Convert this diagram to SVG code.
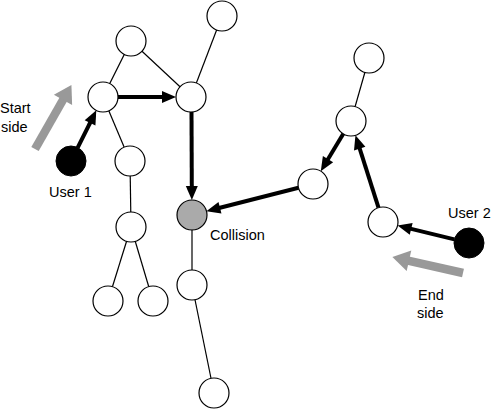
<svg xmlns="http://www.w3.org/2000/svg" width="491" height="410" viewBox="0 0 491 410">
<style>
.n{fill:#fff;stroke:#000;stroke-width:1.2}
.u{fill:#000;stroke:#000;stroke-width:1}
.c{fill:#aaa;stroke:#000;stroke-width:1.2}
.e{stroke:#000;stroke-width:1.2;fill:none}
.a{stroke:#000;stroke-width:4;fill:none;marker-end:url(#ah)}
.g{stroke:#999;stroke-width:8.5;fill:none;marker-end:url(#gh)}
text{font-family:"Liberation Sans",Arial,sans-serif;font-size:14.5px;fill:#000}
</style>
<defs>
<marker id="ah" markerUnits="userSpaceOnUse" markerWidth="15" markerHeight="12" refX="1" refY="6" orient="auto" overflow="visible">
<path d="M0,0 L14,6 L0,12 z" fill="#000"/>
</marker>
<marker id="gh" markerUnits="userSpaceOnUse" markerWidth="18" markerHeight="21" refX="1" refY="10.5" orient="auto" overflow="visible">
<path d="M0,0 L17,10.5 L0,21 z" fill="#999"/>
</marker>
</defs>
<g id="edges">
<line class="e" x1="131" y1="41" x2="103" y2="97"/>
<line class="e" x1="131" y1="41" x2="191" y2="97"/>
<line class="e" x1="222" y1="16" x2="191" y2="97"/>
<line class="e" x1="103" y1="97" x2="130" y2="161"/>
<line class="e" x1="130" y1="161" x2="131" y2="227"/>
<line class="e" x1="131" y1="227" x2="108" y2="301"/>
<line class="e" x1="131" y1="227" x2="153" y2="301"/>
<line class="e" x1="192" y1="215" x2="192" y2="285"/>
<line class="e" x1="192" y1="285" x2="214" y2="393"/>
<line class="e" x1="369" y1="58" x2="351" y2="121"/>
</g>
<g id="connectors">
<line class="a" x1="77.7" y1="147.6" x2="90.5" y2="122"/>
<line class="a" x1="118" y1="97" x2="163" y2="97"/>
<line class="a" x1="191.5" y1="112" x2="191.8" y2="187"/>
<line class="a" x1="298.5" y1="187.7" x2="219" y2="208"/>
<line class="a" x1="343.3" y1="133.8" x2="327.5" y2="160"/>
<line class="a" x1="378.5" y1="207.7" x2="359.4" y2="147.7"/>
<line class="a" x1="454.4" y1="239.4" x2="410.2" y2="228.6"/>
<line class="g" x1="35" y1="149" x2="63.5" y2="99"/>
<line class="g" x1="463" y1="273" x2="408" y2="260.6"/>
</g>
<g id="nodeA"><circle class="n" cx="131" cy="41" r="15"/></g>
<g id="nodeB"><circle class="n" cx="222" cy="16" r="15"/></g>
<g id="nodeC"><circle class="n" cx="103" cy="97" r="15"/></g>
<g id="nodeD"><circle class="n" cx="191" cy="97" r="15"/></g>
<g id="nodeE"><circle class="n" cx="130" cy="161" r="15"/></g>
<g id="nodeF"><circle class="n" cx="131" cy="227" r="15"/></g>
<g id="leaf1"><circle class="n" cx="108" cy="301" r="15"/></g>
<g id="leaf2"><circle class="n" cx="153" cy="301" r="15"/></g>
<g id="collision"><circle class="c" cx="192" cy="215" r="15"/><text x="210" y="240">Collision</text></g>
<g id="nodeG"><circle class="n" cx="192" cy="285" r="15"/></g>
<g id="nodeH"><circle class="n" cx="214" cy="393" r="15"/></g>
<g id="nodeI"><circle class="n" cx="369" cy="58" r="15"/></g>
<g id="nodeJ"><circle class="n" cx="351" cy="121" r="15"/></g>
<g id="nodeK"><circle class="n" cx="313" cy="184" r="15"/></g>
<g id="nodeL"><circle class="n" cx="383" cy="222" r="15"/></g>
<g id="user1"><circle class="u" cx="71" cy="161" r="15"/><text x="49" y="197">User 1</text></g>
<g id="user2"><circle class="u" cx="469" cy="243" r="15"/><text x="448" y="218">User 2</text></g>
<g id="startLabel"><text x="0" y="113">Start</text><text x="1" y="132">side</text></g>
<g id="endLabel"><text x="418" y="300">End</text><text x="417" y="318">side</text></g>
</svg>
